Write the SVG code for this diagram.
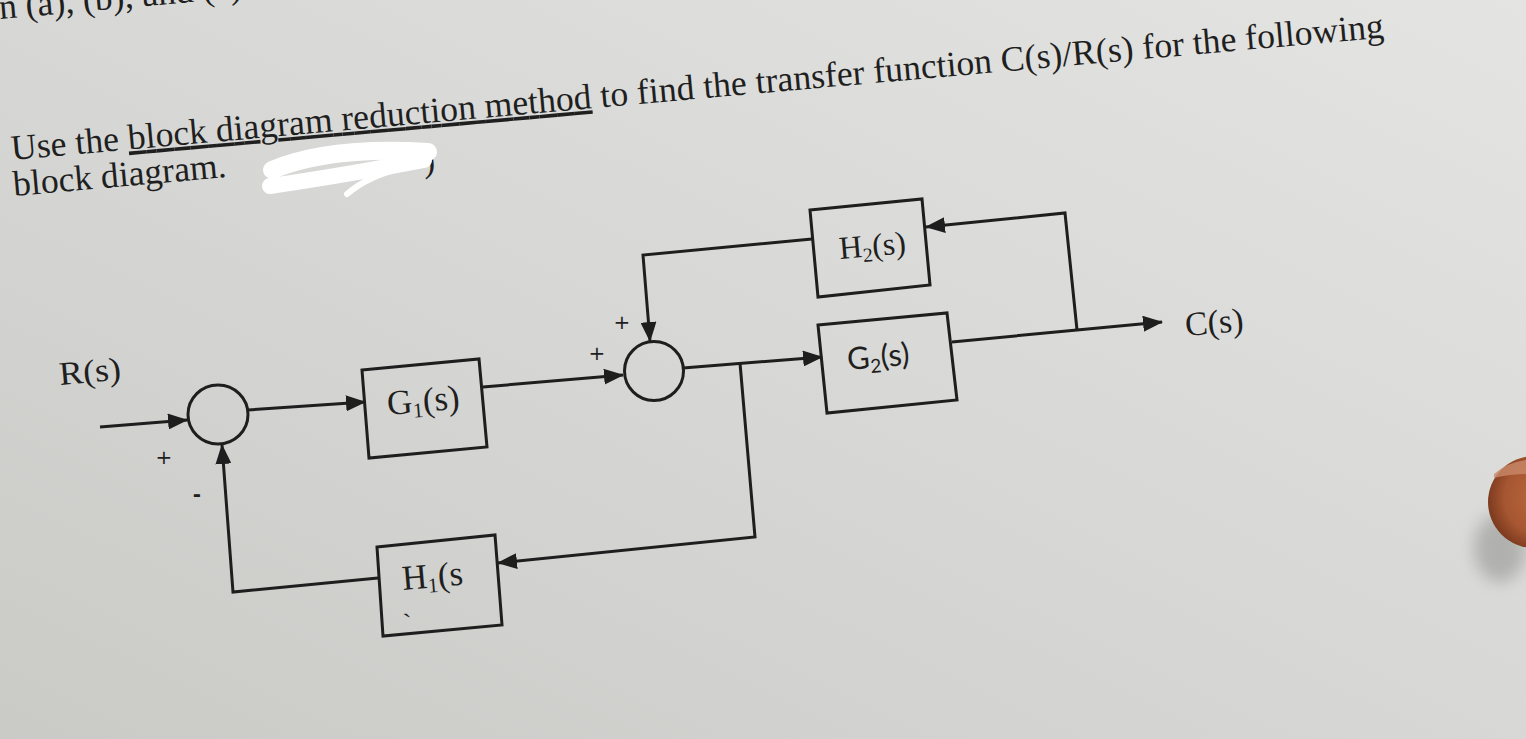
<svg xmlns="http://www.w3.org/2000/svg" width="1526" height="739" viewBox="0 0 1526 739">
<defs>
<linearGradient id="paper" x1="0" y1="1" x2="1" y2="0">
<stop offset="0" stop-color="#cacbc7"/>
<stop offset="0.45" stop-color="#d6d7d4"/>
<stop offset="1" stop-color="#e4e4e2"/>
</linearGradient>
<radialGradient id="skin" cx="0.6" cy="0.45" r="0.6">
<stop offset="0" stop-color="#bc6a40"/>
<stop offset="0.7" stop-color="#a65631"/>
<stop offset="1" stop-color="#7e3b1f"/>
</radialGradient>
<filter id="blur" x="-50%" y="-50%" width="200%" height="200%"><feGaussianBlur stdDeviation="8"/></filter>
<marker id="ah" markerWidth="20" markerHeight="16" refX="19" refY="8" orient="auto" markerUnits="userSpaceOnUse">
<path d="M0,0 L20,8 L0,16 Z" fill="#1e1e1e"/>
</marker>
<style>
.q{font-family:"Liberation Serif","Times New Roman",serif;font-size:35.7px;fill:#1f1f1f}
.lbl{font-family:"Liberation Serif","Times New Roman",serif;fill:#1f1f1f}
.sans{font-family:Lato,"Open Sans",sans-serif;fill:#1f1f1f}
.sg{font-family:"DejaVu Sans",sans-serif;font-size:20px;fill:#1f1f1f;text-anchor:middle}
.box{fill:none;stroke:#1e1e1e;stroke-width:3;stroke-linejoin:miter}
.ln{fill:none;stroke:#1e1e1e;stroke-width:3;stroke-linejoin:miter}
.arr{marker-end:url(#ah)}
</style>
</defs>
<rect x="0" y="0" width="1526" height="739" fill="url(#paper)"/>

<!-- header text -->
<text class="q" x="-10" y="20" transform="rotate(-5.1 -10 20)">in (a), (b), and (c)</text>
<text class="q" x="12" y="160" transform="rotate(-5.1 12 160)" textLength="1378" lengthAdjust="spacing">Use the <tspan text-decoration="underline">block diagram reduction method</tspan> to find the transfer function C(s)/R(s) for the following</text>
<text class="q" x="14" y="196" transform="rotate(-5.1 14 196)">block diagram.</text>
<text class="q" x="424" y="172" transform="rotate(-5.1 424 172)">)</text>
<g id="redaction" fill="none" stroke="#ffffff" stroke-linecap="round" stroke-linejoin="round">
<path d="M272,170 Q330,146 428,152" stroke-width="18"/>
<path d="M270,186 Q340,176 424,160" stroke-width="16"/>
<path d="M347,194 Q368,176 402,168" stroke-width="6"/>
</g>

<!-- finger -->
<ellipse cx="1500" cy="548" rx="26" ry="34" fill="#8f8f8c" opacity="0.55" filter="url(#blur)"/>
<ellipse cx="1534" cy="502" rx="46" ry="46" fill="url(#skin)"/>
<path d="M1494,474 Q1508,462 1526,460 L1526,474 Q1510,474 1494,478 Z" fill="#c98a6a" opacity="0.8"/>

<!-- connectors -->
<g id="connectors">
<path class="ln arr" d="M100,427 L187,420"/>
<path class="ln arr" d="M248,410 L365,402"/>
<path class="ln arr" d="M483,387 L623,375"/>
<path class="ln arr" d="M683,368 L822,357"/>
<path class="ln arr" d="M740,363 L755,537 L498,563"/>
<path class="ln arr" d="M378,578 L233,592 L222,445"/>
<path class="ln arr" d="M952,342 L1077,330 L1162,322"/>
<path class="ln arr" d="M1077,330 L1065,213 L926,227"/>
<path class="ln arr" d="M812,239 L643,255 L650,341"/>
</g>

<!-- nodes -->
<g id="input-label">
<text class="lbl" x="60" y="385" font-size="33" textLength="62" lengthAdjust="spacingAndGlyphs" transform="rotate(-5 60 385)">R(s)</text>
</g>
<g id="sum1">
<ellipse cx="218" cy="414.5" rx="30" ry="29.5" class="box"/>
<text class="sg" x="164" y="464">+</text>
<text class="sg" x="197" y="501" font-size="30" font-weight="bold">-</text>
</g>
<g id="g1">
<polygon class="box" points="362,370 479,359 487,447 369,458"/>
<text class="lbl" x="388" y="415" font-size="35" transform="rotate(-5 388 415)">G<tspan font-size="21" dy="5">1</tspan><tspan dy="-5">(s)</tspan></text>
</g>
<g id="h1">
<polygon class="box" points="377,547 495,535 502,625 383,636"/>
<text class="lbl" x="403" y="590" font-size="35" transform="rotate(-5 403 590)">H<tspan font-size="21" dy="5">1</tspan><tspan dy="-5">(s</tspan></text>
<text class="lbl" x="404" y="632" font-size="26" transform="rotate(-5 404 632)">`</text>
</g>
<g id="sum2">
<ellipse cx="654" cy="371" rx="29.5" ry="29.5" class="box"/>
<text class="sg" x="597" y="360">+</text>
<text class="sg" x="622" y="329">+</text>
</g>
<g id="h2">
<polygon class="box" points="810,210 922,199 930,285 818,297"/>
<text class="lbl" x="840" y="259" font-size="32" transform="rotate(-5 840 259)">H<tspan font-size="20" dy="5">2</tspan><tspan dy="-5">(s)</tspan></text>
</g>
<g id="g2">
<polygon class="box" points="818,325 947,313 957,400 827,413"/>
<text class="sans" x="848" y="370" font-size="31" transform="rotate(-5 848 370)">G<tspan font-size="19" dy="5">2</tspan><tspan dy="-5">(s)</tspan></text>
</g>
<g id="output-label">
<text class="lbl" x="1186" y="336" font-size="34" transform="rotate(-5 1186 336)">C(s)</text>
</g>
</svg>
